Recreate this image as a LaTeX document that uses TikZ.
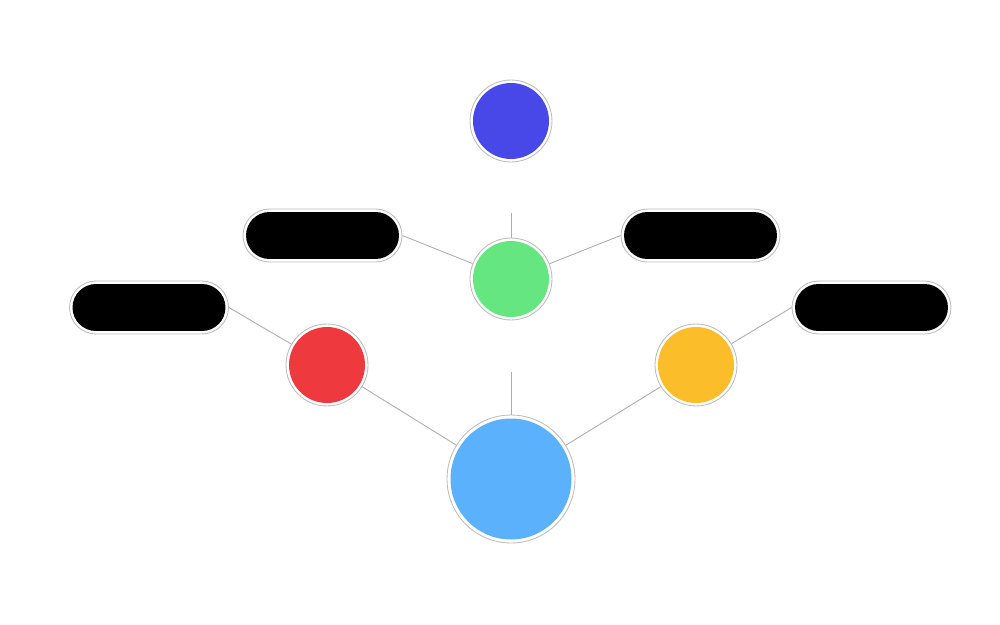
\documentclass[tikz,border=0pt]{standalone}
\definecolor{cblue}{HTML}{4848E8}
\definecolor{cgreen}{HTML}{66E680}
\definecolor{cred}{HTML}{EE3A3F}
\definecolor{cyellow}{HTML}{FBBD29}
\definecolor{clight}{HTML}{5CB1FC}
\definecolor{ringgray}{HTML}{BDBDBD}
\definecolor{linegray}{HTML}{ADADAD}
\begin{document}
\begin{tikzpicture}[x=0.02cm,y=-0.02cm,
  ring/.style={circle,draw=ringgray,line width=0.5pt,fill=white,inner sep=0pt,minimum size=#1},
  disc/.style={circle,inner sep=0pt,minimum size=#1},
  pillring/.style={rectangle,draw=ringgray,line width=0.5pt,fill=white,inner sep=0pt,
    minimum width=3.18cm,minimum height=1.06cm,rounded corners=0.53cm},
  pill/.style={rectangle,fill=black,inner sep=0pt,
    minimum width=3.06cm,minimum height=0.94cm,rounded corners=0.47cm},
  link/.style={draw=linegray,line width=0.5pt}]
\useasboundingbox (0,0) rectangle (1000,625);
% circles
\node[ring=1.64cm] (top) at (511,121) {};
\node[disc=1.52cm,fill=cblue] (topf) at (511,121) {};
\node[ring=1.64cm] (g) at (511,279) {};
\node[disc=1.52cm,fill=cgreen] (gf) at (511,279) {};
\node[ring=1.64cm] (r) at (327,365) {};
\node[disc=1.52cm,fill=cred] (rf) at (327,365) {};
\node[ring=1.64cm] (y) at (696,365) {};
\node[disc=1.52cm,fill=cyellow] (yf) at (696,365) {};
\node[ring=2.56cm] (b) at (511,479) {};
\node[disc=2.42cm,fill=clight] (bf) at (511,479) {};
% pills
\node[pillring] (plt) at (322.5,235.5) {};
\node[pill] (pltf) at (322.5,235.5) {};
\node[pillring] (prt) at (700.5,235.5) {};
\node[pill] (prtf) at (700.5,235.5) {};
\node[pillring] (pl) at (149,307.5) {};
\node[pill] (plf) at (149,307.5) {};
\node[pillring] (pr) at (871.5,307.5) {};
\node[pill] (prf) at (871.5,307.5) {};
% stubs
\coordinate (s1) at (511,213);
\coordinate (s2) at (511,372);
% connectors
\path[link] (g.north) -- (s1);
\path[link] (b.north) -- (s2);
\path[link] (plt.east) -- (g);
\path[link] (g) -- (prt.west);
\path[link] (pl.east) -- (r);
\path[link] (r) -- (b);
\path[link] (b) -- (y);
\path[link] (y) -- (pr.west);
\end{tikzpicture}
\end{document}
